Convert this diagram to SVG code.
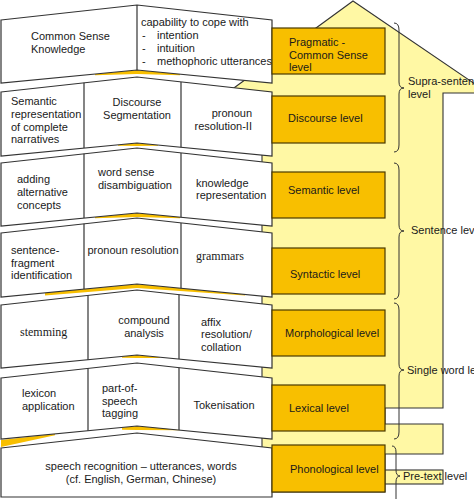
<svg xmlns="http://www.w3.org/2000/svg" width="474" height="499" viewBox="0 0 474 499">
<style>
.pn{fill:#fff;stroke:#333;stroke-width:1.2;stroke-linejoin:miter}
.dv{stroke:#333;stroke-width:1.2}
.ob{fill:#F8BF00;stroke:#4a3a00;stroke-width:1.2}
.or{fill:#F8BF00}
.ar{fill:#FFF8A4;stroke:#333;stroke-width:1.1}
.br{fill:none;stroke:#333;stroke-width:1}
.t{font-family:"Liberation Sans",Arial,sans-serif;font-size:11px;fill:#1a1a1a}
.s{font-family:"Liberation Serif","Times New Roman",serif;font-size:12px;fill:#1a1a1a}
.m{text-anchor:middle}
.e{text-anchor:end}
</style>
<rect x="0" y="0" width="474" height="499" fill="#fff"/>
<g id="arrow">
<path class="ar" d="M353,1 L488,93 L443,93 L443,408 L385,408 L385,424 L443,424 L443,454 L385,454 L385,492 L262,492 L262,93 L227,93 Z"/>
<rect class="ar" x="385" y="470" width="58" height="14"/>
</g>
<g id="slivers">
<polygon class="or" points="95,74 137,70 180,74.1 180,75.2 137,74 95,75.2"/>
<polygon class="or" points="118,144.5 137,143 158,145 158,145.8 137,146 118,145.8"/>
<polygon class="or" points="95,217 137,213 180,217.1 180,218.2 137,217 95,218.2"/>
<polygon class="or" points="45,292.8 137,284 245,294.4 245,295.6 137,288 45,295.5"/>
<polygon class="or" points="122,356.4 137,355 160,357.2 160,358 137,358 122,357.8"/>
<polygon class="or" points="1,440 55,434 55,435.2 1,447"/>
<polygon class="or" points="122,427.4 137,426 180,429.1 180,430.2 137,430 122,429.8"/>
</g>
<g id="row1">
<polygon class="pn" points="1,20 137,5 272,20 272,83 137,70 1,83"/>
<line class="dv" x1="137" y1="5" x2="137" y2="70"/>
<text class="t" x="31" y="40">Common Sense</text>
<text class="t" x="31" y="53">Knowledge</text>
<text class="t" x="141" y="26">capability to cope with</text>
<text class="t" x="142" y="39">-</text><text class="t" x="157" y="39">intention</text>
<text class="t" x="142" y="52">-</text><text class="t" x="157" y="52">intuition</text>
<text class="t" x="142" y="65">-</text><text class="t" x="157" y="65">methophoric utterances</text>
</g>
<g id="row2">
<polygon class="pn" points="1,92 137,77 272,92 272,156 137,143 1,156"/>
<line class="dv" x1="84" y1="82.8" x2="84" y2="148.1"/>
<line class="dv" x1="181" y1="81.9" x2="181" y2="147.2"/>
<text class="t" x="11" y="105">Semantic</text>
<text class="t" x="11" y="118">representation</text>
<text class="t" x="11" y="130.5">of complete</text>
<text class="t" x="11" y="143">narratives</text>
<text class="t m" x="137" y="106">Discourse</text>
<text class="t m" x="137" y="119">Segmentation</text>
<text class="t e" x="252" y="117">pronoun</text>
<text class="t e" x="252" y="130">resolution-II</text>
</g>
<g id="row3">
<polygon class="pn" points="1,163 137,148 272,163 272,226 137,213 1,226"/>
<line class="dv" x1="84" y1="153.8" x2="84" y2="218.1"/>
<line class="dv" x1="181" y1="152.9" x2="181" y2="217.2"/>
<text class="t" x="17" y="183">adding</text>
<text class="t" x="17" y="196">alternative</text>
<text class="t" x="17" y="209">concepts</text>
<text class="t" x="98" y="176">word sense</text>
<text class="t" x="98" y="189">disambiguation</text>
<text class="t" x="196" y="187">knowledge</text>
<text class="t" x="196" y="199">representation</text>
</g>
<g id="row4">
<polygon class="pn" points="1,233 137,218 272,233 272,297 137,284 1,297"/>
<line class="dv" x1="84" y1="223.8" x2="84" y2="289.1"/>
<line class="dv" x1="181" y1="222.9" x2="181" y2="288.2"/>
<text class="t" x="11" y="254">sentence-</text>
<text class="t" x="11" y="267">fragment</text>
<text class="t" x="11" y="279">identification</text>
<text class="t m" x="133" y="254">pronoun resolution</text>
<text class="s" x="196" y="260">grammars</text>
</g>
<g id="row5">
<polygon class="pn" points="1,305 137,290 272,305 272,368 137,355 1,368"/>
<line class="dv" x1="88" y1="295.4" x2="88" y2="359.7"/>
<line class="dv" x1="179" y1="294.7" x2="179" y2="359"/>
<text class="s" x="20" y="336">stemming</text>
<text class="t m" x="144" y="324">compound</text>
<text class="t m" x="144" y="337">analysis</text>
<text class="t" x="201" y="326">affix</text>
<text class="t" x="201" y="338">resolution/</text>
<text class="t" x="201" y="351">collation</text>
</g>
<g id="row6">
<polygon class="pn" points="1,378 137,363 272,378 272,439 137,426 1,439"/>
<line class="dv" x1="88" y1="368.4" x2="88" y2="430.7"/>
<line class="dv" x1="179" y1="367.7" x2="179" y2="430"/>
<text class="t" x="22" y="397">lexicon</text>
<text class="t" x="22" y="410">application</text>
<text class="t" x="102" y="392">part-of-</text>
<text class="t" x="102" y="405">speech</text>
<text class="t" x="102" y="417">tagging</text>
<text class="t m" x="224" y="409">Tokenisation</text>
</g>
<g id="row7">
<polygon class="pn" points="1,448 137,433 272,448 272,497 1,497"/>
<text class="t m" x="141" y="470">speech recognition – utterances, words</text>
<text class="t m" x="141" y="483">(cf. English, German, Chinese)</text>
</g>
<g id="levels">
<g id="pragmatic"><rect class="ob" x="272" y="28" width="113" height="46"/>
<text class="t" x="289" y="46">Pragmatic -</text><text class="t" x="289" y="59">Common Sense</text><text class="t" x="289" y="71">level</text></g>
<g id="discourse"><rect class="ob" x="272" y="96" width="113" height="47"/><text class="t" x="288" y="122">Discourse level</text></g>
<g id="semantic"><rect class="ob" x="272" y="172" width="113" height="46"/><text class="t" x="288" y="194">Semantic level</text></g>
<g id="syntactic"><rect class="ob" x="272" y="248" width="113" height="46"/><text class="t" x="290" y="278">Syntactic level</text></g>
<g id="morphological"><rect class="ob" x="272" y="310" width="113" height="46"/><text class="t" x="285" y="337">Morphological level</text></g>
<g id="lexical"><rect class="ob" x="272" y="385" width="113" height="46"/><text class="t" x="289" y="412">Lexical level</text></g>
<g id="phonological"><rect class="ob" x="272" y="445" width="113" height="47"/><text class="t" x="290" y="473">Phonological level</text></g>
</g>
<g id="braces">
<path class="br" d="M394,23 Q399,23 399,30 L399,82 Q399,88 404,88 Q399,88 399,94 L399,145 Q399,152 394,152"/>
<path class="br" d="M394,163 Q399,163 399,170 L399,225 Q399,231 404,231 Q399,231 399,237 L399,292 Q399,299 394,299"/>
<path class="br" d="M394,303 Q399,303 399,310 L399,364 Q399,370 404,370 Q399,370 399,376 L399,432 Q399,439 394,439"/>
<path class="br" d="M392,446 Q396,446 396,452 L396,470 Q396,476 400,476 Q396,476 396,482 L396,500"/>
<text class="t" x="408" y="85">Supra-sentence</text>
<text class="t" x="408" y="98">level</text>
<text class="t" x="411" y="234">Sentence level</text>
<text class="t" x="407" y="374">Single word level</text>
<text class="t" x="403" y="480">Pre-text level</text>
</g>
</svg>
